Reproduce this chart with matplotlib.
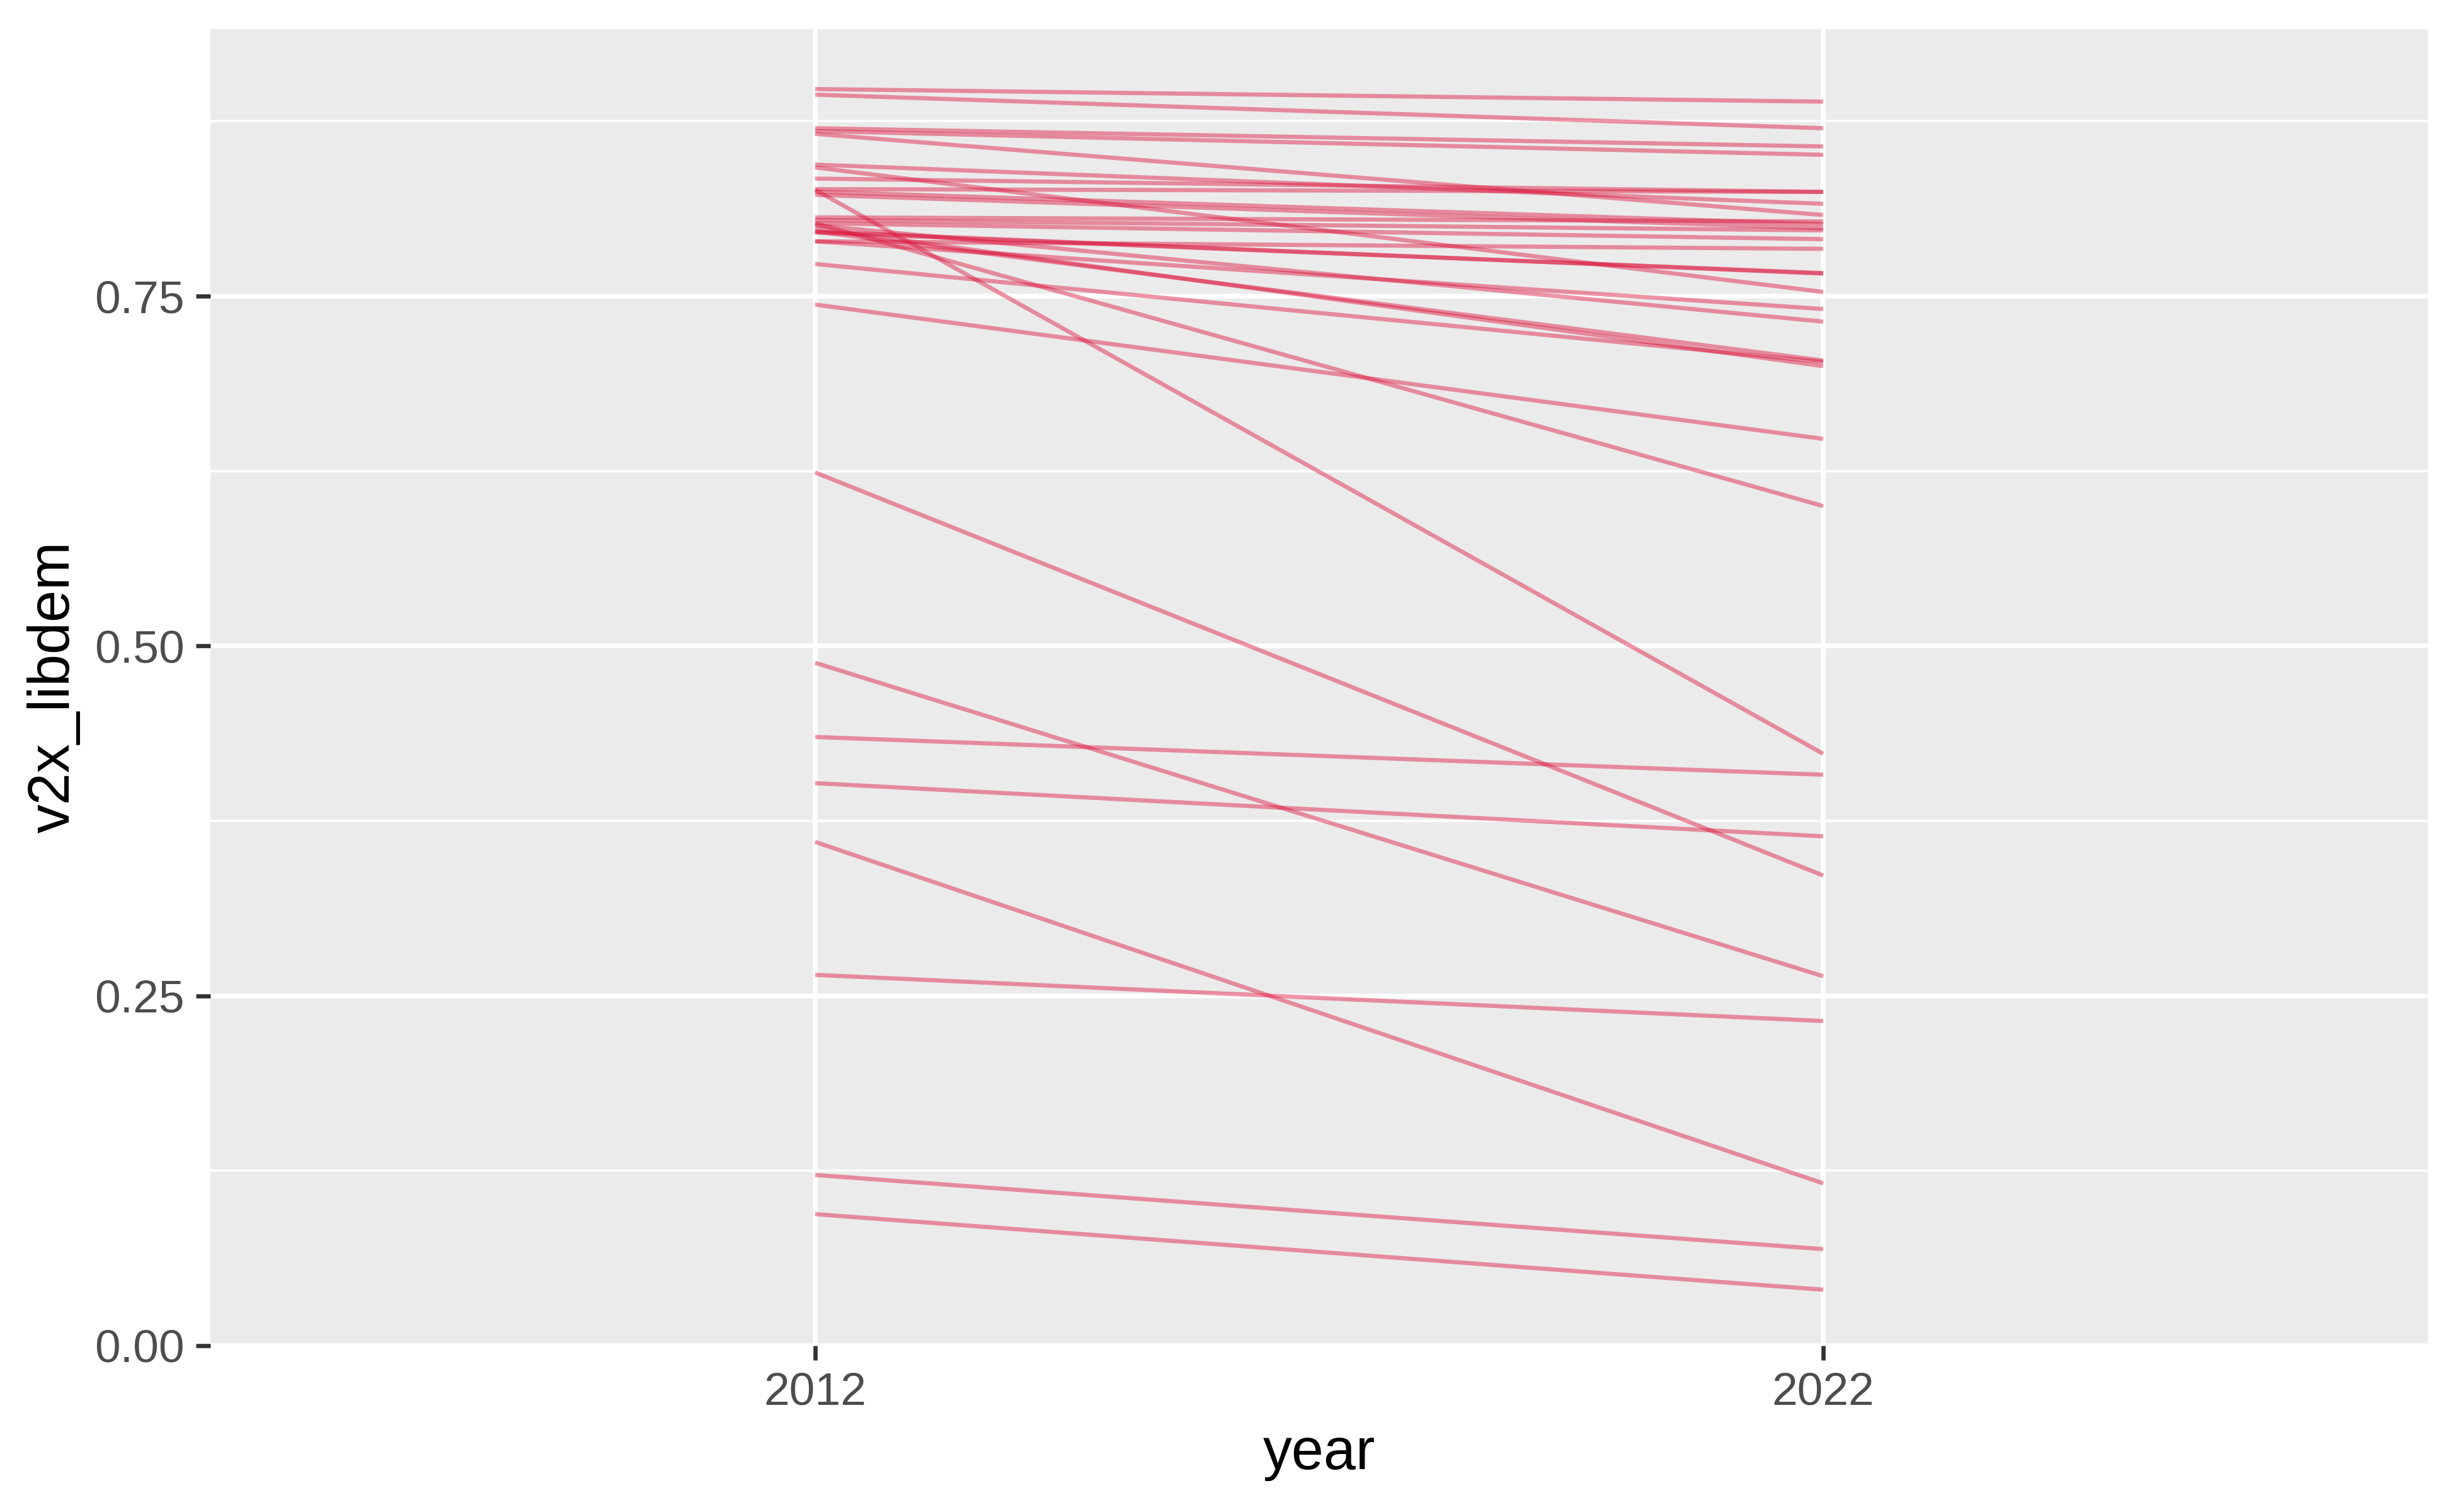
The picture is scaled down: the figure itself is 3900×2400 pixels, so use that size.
import matplotlib
matplotlib.use("Agg")
import matplotlib.pyplot as plt
from matplotlib.ticker import FixedLocator

plt.rcParams['font.family'] = ['Liberation Sans', 'DejaVu Sans']

# one entry per country: v2x_libdem in 2012 and in 2022
years = ["2012", "2022"]
libdem_2012 = [0.898, 0.894, 0.870, 0.868, 0.866, 0.844, 0.842, 0.834, 0.8265,
               0.826, 0.8247, 0.8224, 0.8063, 0.8044, 0.8021, 0.7892, 0.7962,
               0.7955, 0.8007, 0.7892, 0.7985, 0.7962, 0.8021, 0.773, 0.744,
               0.624, 0.488, 0.435, 0.402, 0.360, 0.265, 0.122, 0.094]
libdem_2022 = [0.889, 0.870, 0.857, 0.851, 0.808, 0.816, 0.753, 0.8245, 0.8245,
               0.423, 0.8015, 0.7985, 0.8034, 0.797, 0.7907, 0.7838, 0.7661,
               0.7665, 0.7318, 0.7408, 0.700, 0.704, 0.600, 0.703, 0.648,
               0.336, 0.264, 0.408, 0.364, 0.116, 0.232, 0.069, 0.040]

y_ticks = [0.0, 0.25, 0.5, 0.75]
y_tick_labels = ["0.00", "0.25", "0.50", "0.75"]
y_minor = [0.125, 0.375, 0.625, 0.875]

fig = plt.figure(figsize=(13, 8), dpi=300)
ax = fig.add_axes([0.0856, 0.110, 0.9026, 0.871])
ax.set_facecolor("#EBEBEB")

xpos = [1, 2]
for a, b in zip(libdem_2012, libdem_2022):
    ax.plot(xpos, [a, b], color="#DC143C", alpha=0.45, lw=1.6,
            solid_capstyle="butt", zorder=3)

ymax = max(max(libdem_2012), max(libdem_2022))
ax.set_xlim(0.4, 2.6)
ax.set_ylim(0, ymax * 1.048)

ax.set_xticks(xpos)
ax.set_xticklabels(years)
ax.set_yticks(y_ticks)
ax.set_yticklabels(y_tick_labels)
ax.yaxis.set_minor_locator(FixedLocator(y_minor))

ax.grid(True, which="major", color="white", lw=1.8, zorder=1)
ax.grid(True, which="minor", axis="y", color="white", lw=0.9, zorder=1)
ax.set_axisbelow(True)
for s in ax.spines.values():
    s.set_visible(False)

ax.tick_params(which="major", length=5.5, width=1.6, color="#333333",
               labelsize=17.6, labelcolor="#4D4D4D", pad=4.4)
ax.tick_params(which="minor", length=0)

ax.set_xlabel("year", fontsize=22, color="black", labelpad=5)
ax.set_ylabel("v2x_libdem", fontsize=22, color="black", labelpad=5)

fig.savefig("out.png", dpi=300, facecolor="white")
